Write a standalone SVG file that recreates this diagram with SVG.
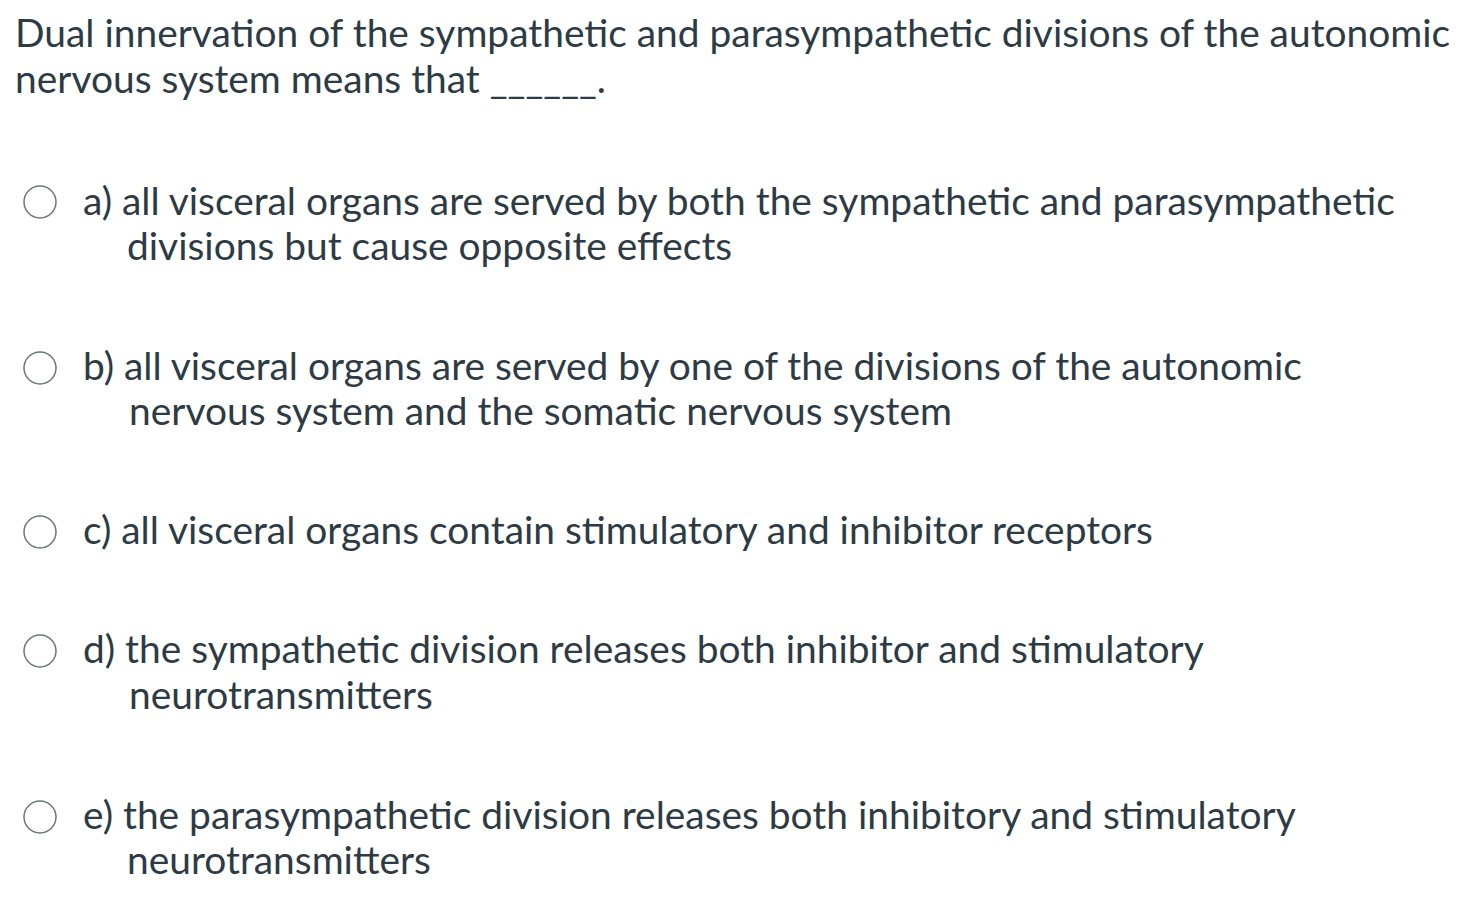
<svg xmlns="http://www.w3.org/2000/svg" width="1480" height="914" viewBox="0 0 1480 914">
<style>
text{font-family:Lato,"Open Sans",sans-serif;font-size:38.9px;fill:#2d3b45}
.r{fill:#fff;stroke:#6b7780;stroke-width:1.5}
</style>
<rect width="1480" height="914" fill="#fff"/>
<text x="15" y="47">Dual innervation of the sympathetic and parasympathetic divisions of the autonomic</text>
<text x="15" y="93">nervous system means that ______.</text>
<circle class="r" cx="40" cy="202" r="16"/>
<text x="83" y="215">a) all visceral organs are served by both the sympathetic and parasympathetic</text>
<text x="127" y="260">divisions but cause opposite effects</text>
<circle class="r" cx="40" cy="368" r="16"/>
<text x="83" y="380">b) all visceral organs are served by one of the divisions of the autonomic</text>
<text x="129" y="425">nervous system and the somatic nervous system</text>
<circle class="r" cx="40" cy="532" r="16"/>
<text x="83" y="544">c) all visceral organs contain stimulatory and inhibitor receptors</text>
<circle class="r" cx="40" cy="651" r="16"/>
<text x="83" y="663">d) the sympathetic division releases both inhibitor and stimulatory</text>
<text x="129" y="709">neurotransmitters</text>
<circle class="r" cx="40" cy="817" r="16"/>
<text x="83" y="829">e) the parasympathetic division releases both inhibitory and stimulatory</text>
<text x="127" y="874">neurotransmitters</text>
</svg>
